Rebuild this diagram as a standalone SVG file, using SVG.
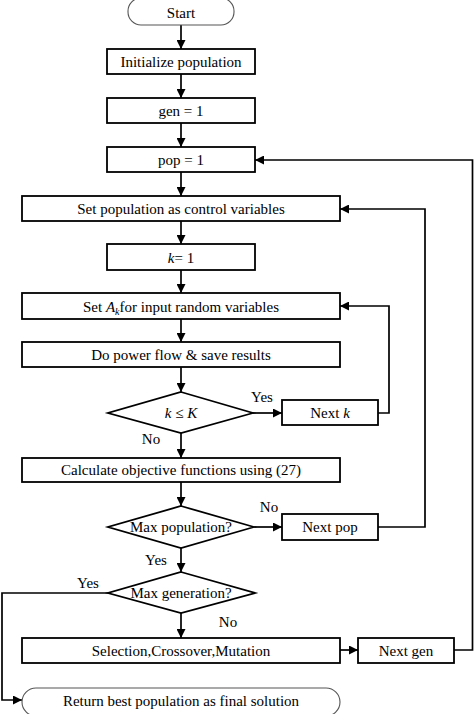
<svg xmlns="http://www.w3.org/2000/svg" width="474" height="714" viewBox="0 0 474 714">
<style>
.box{fill:#fff;stroke:#000;stroke-width:1.8}
.term{fill:#fff;stroke:#555;stroke-width:1.1}
.t{font-family:"Liberation Serif","Times New Roman",serif;font-size:15px;fill:#000;text-anchor:middle}
.c{fill:none;stroke:#000;stroke-width:1.7}
.i{font-style:italic}
</style>
<defs>
<marker id="ah" viewBox="0 0 10 10" refX="10" refY="5" markerWidth="9" markerHeight="9" markerUnits="userSpaceOnUse" orient="auto">
<path d="M0,0 L10,5 L0,10 z" fill="#000"/>
</marker>
</defs>
<rect width="474" height="714" fill="#fff"/>
<g id="connectors">
<path class="c" d="M181,25 V49" marker-end="url(#ah)"/>
<path class="c" d="M181,74 V98" marker-end="url(#ah)"/>
<path class="c" d="M181,123 V147" marker-end="url(#ah)"/>
<path class="c" d="M181,172 V196" marker-end="url(#ah)"/>
<path class="c" d="M181,221 V244" marker-end="url(#ah)"/>
<path class="c" d="M181,270 V293" marker-end="url(#ah)"/>
<path class="c" d="M181,319 V342" marker-end="url(#ah)"/>
<path class="c" d="M181,367 V392" marker-end="url(#ah)"/>
<path class="c" d="M253,413 H282" marker-end="url(#ah)"/>
<path class="c" d="M378,413 H389 V306 H340" marker-end="url(#ah)"/>
<path class="c" d="M181,433 V458" marker-end="url(#ah)"/>
<path class="c" d="M181,482 V506" marker-end="url(#ah)"/>
<path class="c" d="M254,527 H282" marker-end="url(#ah)"/>
<path class="c" d="M378,527 H425 V209 H340" marker-end="url(#ah)"/>
<path class="c" d="M181,548 V572" marker-end="url(#ah)"/>
<path class="c" d="M181,613 V638" marker-end="url(#ah)"/>
<path class="c" d="M340,650 H358" marker-end="url(#ah)"/>
<path class="c" d="M454,650 H472.5 V160 H255" marker-end="url(#ah)"/>
<path class="c" d="M108,593 H2 V700 H22" marker-end="url(#ah)"/>
<text class="t" x="262" y="402">Yes</text>
<text class="t" x="151" y="444">No</text>
<text class="t" x="269" y="512">No</text>
<text class="t" x="156" y="565">Yes</text>
<text class="t" x="88" y="588">Yes</text>
<text class="t" x="228" y="627">No</text>
</g>
<g id="start">
<rect class="term" x="128" y="-2" width="106" height="27" rx="13"/>
<text class="t" x="181" y="18">Start</text>
</g>
<g id="init">
<rect class="box" x="107" y="49" width="148" height="25"/>
<text class="t" x="181" y="66.5">Initialize population</text>
</g>
<g id="gen1">
<rect class="box" x="107" y="98" width="148" height="25"/>
<text class="t" x="181" y="115.5">gen = 1</text>
</g>
<g id="pop1">
<rect class="box" x="107" y="147" width="148" height="25"/>
<text class="t" x="181" y="164.5">pop = 1</text>
</g>
<g id="setpop">
<rect class="box" x="22" y="196" width="318" height="25"/>
<text class="t" x="181" y="213.5">Set population as control variables</text>
</g>
<g id="k1">
<rect class="box" x="107" y="244" width="148" height="26"/>
<text class="t" x="181" y="262.5"><tspan class="i">k</tspan>= 1</text>
</g>
<g id="setak">
<rect class="box" x="22" y="293" width="318" height="26"/>
<text class="t" x="181" y="311.5">Set <tspan class="i">A</tspan><tspan class="i" font-size="10" dy="3">k</tspan><tspan dy="-3">for input random variables</tspan></text>
</g>
<g id="powerflow">
<rect class="box" x="22" y="342" width="318" height="25"/>
<text class="t" x="181" y="359.5">Do power flow &amp; save results</text>
</g>
<g id="dk">
<path class="box" d="M181,392 L253,413 L181,433 L108,413 Z"/>
<text class="t" x="181" y="418"><tspan class="i">k</tspan> ≤ <tspan class="i">K</tspan></text>
</g>
<g id="nextk">
<rect class="box" x="282" y="400" width="96" height="25"/>
<text class="t" x="330" y="417.5">Next <tspan class="i">k</tspan></text>
</g>
<g id="calc">
<rect class="box" x="22" y="458" width="318" height="24"/>
<text class="t" x="181" y="475">Calculate objective functions using (27)</text>
</g>
<g id="maxpop">
<path class="box" d="M181,506 L254,527 L181,548 L108,527 Z"/>
<text class="t" x="181" y="532">Max population?</text>
</g>
<g id="nextpop">
<rect class="box" x="282" y="514" width="96" height="26"/>
<text class="t" x="330" y="532">Next pop</text>
</g>
<g id="maxgen">
<path class="box" d="M181,572 L255,593 L181,613 L108,593 Z"/>
<text class="t" x="181" y="598">Max generation?</text>
</g>
<g id="selection">
<rect class="box" x="22" y="638" width="318" height="25"/>
<text class="t" x="181" y="655.5">Selection,Crossover,Mutation</text>
</g>
<g id="nextgen">
<rect class="box" x="358" y="638" width="96" height="25"/>
<text class="t" x="406" y="655.5">Next gen</text>
</g>
<g id="return">
<rect class="term" x="22" y="688" width="318" height="28" rx="14"/>
<text class="t" x="181" y="705.5">Return best population as final solution</text>
</g>
</svg>
